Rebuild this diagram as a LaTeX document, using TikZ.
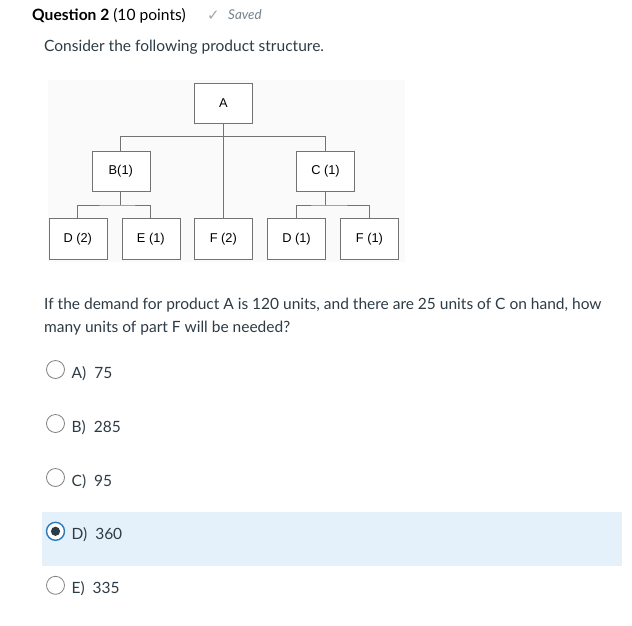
\documentclass[tikz,border=0pt]{standalone}
\usepackage{fontspec}
\setmainfont{Lato}
\newfontfamily\treefont{Liberation Sans}
\newfontfamily\symfont{DejaVu Sans}
\usetikzlibrary{positioning,calc}

\definecolor{inktext}{HTML}{2D3B45}
\definecolor{savedgrey}{HTML}{73818C}
\definecolor{pickblue}{HTML}{E5F1FA}
\definecolor{ringblue}{HTML}{2B7ABC}

\begin{document}
\begin{tikzpicture}[x=1pt, y=-1pt, font = \fontsize{15.5}{18}\selectfont]
    \tikzset{
      part/.style = {draw = black!55, fill = white, minimum width = 58pt, minimum height = 40.5pt,
                     inner sep = 0pt, font = \treefont\fontsize{12.8}{15}\selectfont},
      link/.style = {draw = black!55, line width = 0.8pt},
      radio/.style = {draw = black!50, fill = white, circle, minimum size = 18pt, inner sep = 0pt, line width = 0.8pt},
      answer/.style = {anchor = base west, inner sep = 0pt, text = inktext, font = \fontsize{15.5}{18}\selectfont},
      line/.style = {anchor = base west, inner sep = 0pt, text = inktext},
    }

    \useasboundingbox (0, 0) rectangle (632, 625);

    % header
    \node [anchor = base west, inner sep = 0pt] (title) at (32, 20.5)
      {\fontsize{15.6}{18}\selectfont\textbf{Question 2} (10 points)};
    \node [anchor = base west, inner sep = 0pt, text = savedgrey!70] (tick) at (207, 20)
      {\symfont\fontsize{15}{17}\selectfont ✓};
    \node [anchor = base west, inner sep = 0pt, text = savedgrey] (saved) at (228, 19.5)
      {\fontsize{13.5}{15}\selectfont\itshape Saved};
    \node [line] (intro) at (44, 51.5) {Consider the following product structure.};

    % product structure picture
    \fill [black!2] (48, 80) rectangle (405, 262);
    \node [part] (A) at (223.3, 103.3) {A};
    \node [part] (B) at (120.8, 171.2) {B(1)};
    \node [part] (C) at (325.5, 171.2) {C (1)};
    \node [part] (D2) at (77.8, 238.7) {D (2)};
    \node [part] (E1) at (150.8, 238.7) {E (1)};
    \node [part] (F2) at (223.3, 238.7) {F (2)};
    \node [part] (D1) at (296.5, 238.7) {D (1)};
    \node [part] (F1) at (369.5, 238.7) {F (1)};

    \coordinate (topbar) at (223.3, 136.7);
    \coordinate (bbar) at (120.8, 205);
    \coordinate (cbar) at (325.5, 205);

    \draw [link] (A.south) -- (F2.north);
    \draw [link] (B.north) |- (topbar) -| (C.north);
    \draw [link] (B.south) -- (bbar);
    \draw [link] (D2.north) |- (bbar) -| (E1.north);
    \draw [link] (C.south) -- (cbar);
    \draw [link] (D1.north) |- (cbar) -| (F1.north);

    % question text
    \node [line] (ask1) at (44, 309.5)
      {If the demand for product A is 120 units, and there are 25 units of C on hand, how};
    \node [line] (ask2) at (44, 332.5) {many units of part F will be needed?};

    % answers
    \fill [pickblue] (42.3, 512.3) rectangle (622, 565.7);

    \node [radio] (ra) at (55.5, 369.5) {};
    \node [answer] (ta) at (71.5, 378.3) {A)\ \ 75};
    \node [radio] (rb) at (55.5, 423.5) {};
    \node [answer] (tb) at (71.5, 432.3) {B)\ \ 285};
    \node [radio] (rc) at (55.5, 477.5) {};
    \node [answer] (tc) at (71.5, 486) {C)\ \ 95};
    \node [radio, draw = ringblue, line width = 1.4pt] (rd) at (55.5, 531.3) {};
    \fill [inktext] (rd.center) circle (4.6);
    \node [answer] (td) at (71.5, 539.5) {D)\ \ 360};
    \node [radio] (re) at (55.5, 585.3) {};
    \node [answer] (te) at (71.5, 593) {E)\ \ 335};
\end{tikzpicture}
\end{document}
